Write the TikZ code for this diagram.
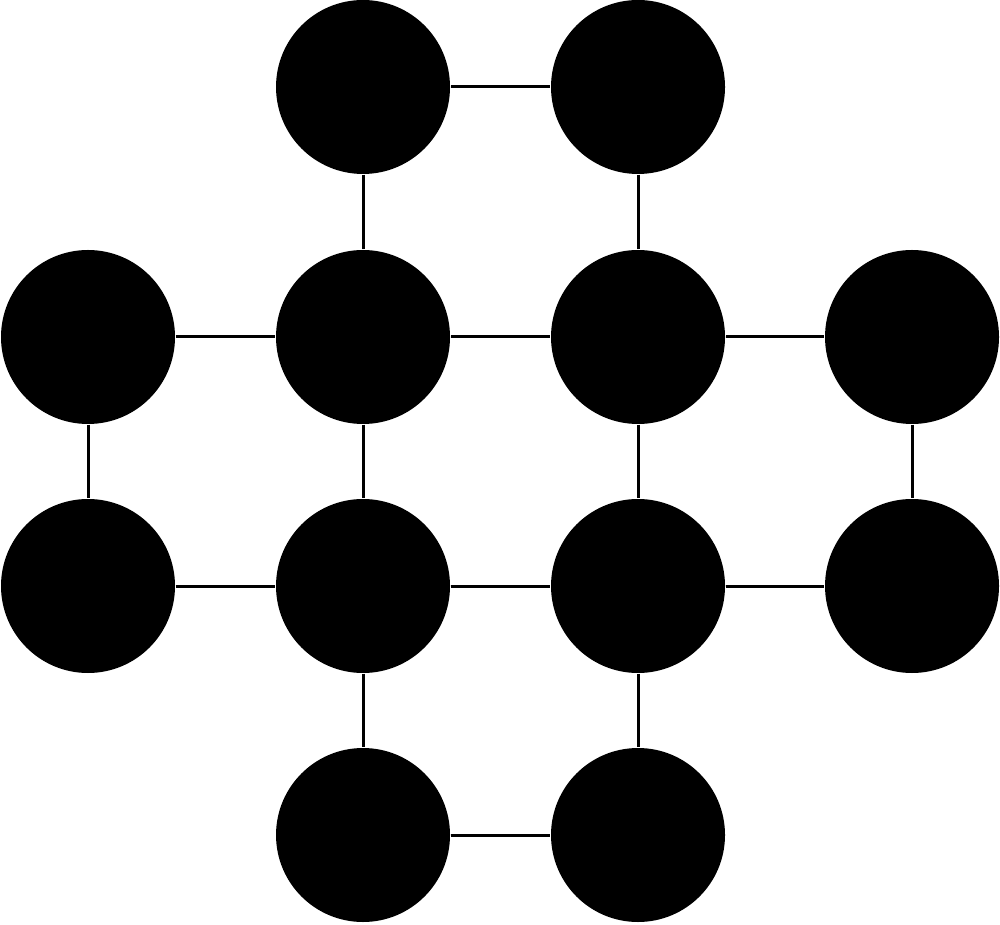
\documentclass[tikz,border=0pt]{standalone}
\usepackage{tikz}
\usetikzlibrary{positioning}
\tikzset{
    % --- dots ---
    dot/.style={
        circle, fill=black, draw=none,
        minimum size=1.74cm, inner sep=0pt
    },
    % --- links ---
    link/.style={
        draw=black, line width=0.03cm
    }
}
\begin{document}
\begin{tikzpicture}
	\useasboundingbox (0,0) rectangle (10,9.24);

	% =========================================
	% 1. dots
	% =========================================

	% top row
	\node [dot] (d12) at (3.63, 8.37) {};
	\node [dot] (d13) at (6.38, 8.37) {};

	% second row
	\node [dot] (d21) at (0.88, 5.87) {};
	\node [dot] (d22) at (3.63, 5.87) {};
	\node [dot] (d23) at (6.38, 5.87) {};
	\node [dot] (d24) at (9.12, 5.87) {};

	% third row
	\node [dot] (d31) at (0.88, 3.38) {};
	\node [dot] (d32) at (3.63, 3.38) {};
	\node [dot] (d33) at (6.38, 3.38) {};
	\node [dot] (d34) at (9.12, 3.38) {};

	% bottom row
	\node [dot] (d42) at (3.63, 0.89) {};
	\node [dot] (d43) at (6.38, 0.89) {};

	% =========================================
	% 2. links
	% =========================================

	% horizontal
	\draw [link] (d12) -- (d13);
	\draw [link] (d21) -- (d22);
	\draw [link] (d22) -- (d23);
	\draw [link] (d23) -- (d24);
	\draw [link] (d31) -- (d32);
	\draw [link] (d32) -- (d33);
	\draw [link] (d33) -- (d34);
	\draw [link] (d42) -- (d43);

	% vertical
	\draw [link] (d12) -- (d22);
	\draw [link] (d13) -- (d23);
	\draw [link] (d21) -- (d31);
	\draw [link] (d22) -- (d32);
	\draw [link] (d23) -- (d33);
	\draw [link] (d24) -- (d34);
	\draw [link] (d32) -- (d42);
	\draw [link] (d33) -- (d43);

\end{tikzpicture}
\end{document}
